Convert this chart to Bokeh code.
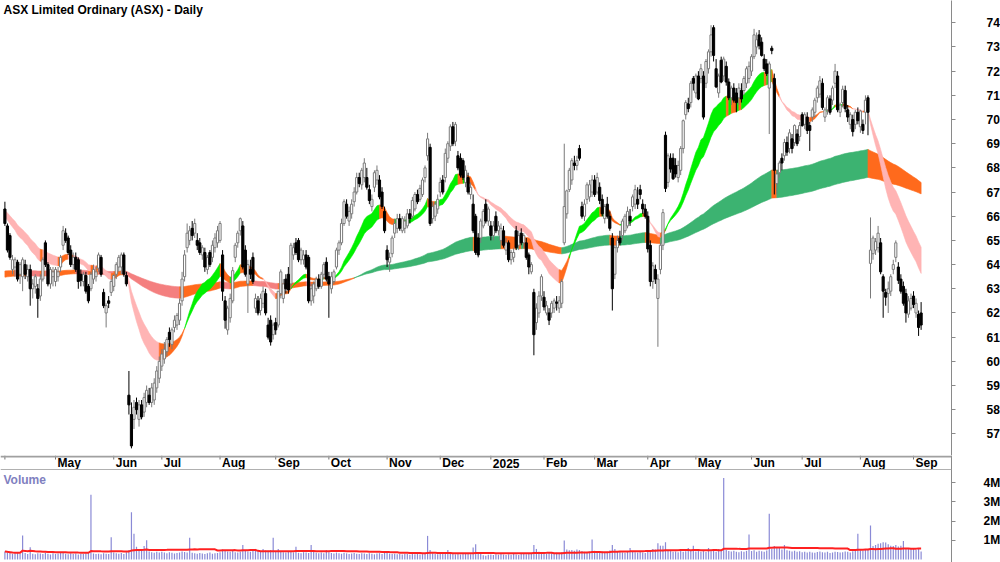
import numpy as np
import pandas as pd
from bokeh.plotting import figure
from bokeh.layouts import column
from bokeh.models import Range1d, FixedTicker, Span, Label, ColumnDataSource
from bokeh.embed import file_html
from bokeh.resources import INLINE
from bokeh.core.properties import value

# ---------------- data ----------------
opens = [
    66.3,65.6,65.2,63.8,63.9,64.1,63.6,63.5,64.0,63.5,63.8,63.0,63.1,63.0,62.7,63.4,64.9,64.0,63.2,63.5,
    63.3,63.5,63.9,64.8,65.3,65.1,64.6,64.0,64.3,64.2,63.6,63.3,63.55,63.1,63.0,63.4,63.5,63.85,64.3,62.85,62.0,62.5,62.85,
    63.1,63.6,63.9,63.9,64.4,63.55,58.6,57.8,57.6,58.3,57.6,58.2,57.9,58.3,58.6,58.3,58.4,58.9,59.3,
    59.8,60.1,60.4,61.2,60.7,61.4,61.5,61.7,62.5,63.5,64.7,65.0,65.5,65.3,65.0,64.9,64.4,64.5,63.8,64.5,64.3,64.7,64.9,
    65.0,64.4,62.5,61.3,61.8,62.5,64.3,64.9,65.4,65.6,64.6,63.2,63.8,64.3,62.2,62.5,62.1,62.4,62.8,61.5,61.7,61.1,
    61.6,61.5,62.8,62.6,63.4,63.6,63.2,64.4,64.9,65.0,64.2,64.2,64.4,64.3,62.5,62.7,63.0,63.4,63.1,63.6,64.1,
    63.5,63.0,63.3,63.9,64.6,64.9,65.7,66.5,65.8,66.1,66.6,67.0,67.6,67.3,67.6,67.6,67.1,66.4,67.2,67.5,67.5,67.0,66.2,
    64.6,64.1,64.45,65.3,65.5,65.9,65.4,65.5,65.6,66.1,66.0,66.3,66.9,66.7,66.9,67.6,68.5,68.85,65.9,66.0,66.3,
    67.0,67.5,67.6,68.4,68.9,69.7,69.1,68.5,68.4,68.3,67.4,67.6,66.9,66.5,66.0,65.1,65.1,65.6,66.5,65.8,
    65.6,65.2,66.0,65.4,65.0,65.4,64.6,64.9,64.2,64.3,65.4,64.8,65.3,64.9,64.9,64.4,63.7,62.85,61.6,62.0,62.7,
    62.65,62.0,62.0,62.0,62.2,62.45,62.2,62.4,64.9,66.1,67.1,67.5,68.2,68.1,68.8,66.4,66.0,66.7,66.8,67.0,
    67.5,67.0,67.2,66.7,65.9,66.5,66.0,65.1,63.6,64.7,65.1,65.2,65.4,65.6,66.0,66.4,66.5,66.7,67.1,66.5,66.3,
    66.0,64.8,63.3,63.8,62.6,63.8,64.8,69.35,67.4,68.4,68.4,68.1,67.6,67.9,68.8,70.2,70.65,70.7,71.7,
    71.1,71.8,71.7,71.8,71.5,72.1,72.8,73.8,72.1,71.1,72.45,71.8,72.2,71.55,70.9,71.3,71.1,70.9,71.2,71.2,71.5,71.7,
    72.0,72.6,73.0,73.5,73.2,72.5,72.3,71.3,72.95,71.7,67.35,67.8,68.4,68.5,69.05,68.8,69.2,69.05,69.4,69.3,
    70.2,69.8,70.1,69.75,70.1,70.3,70.9,71.05,71.5,70.1,70.4,70.85,70.8,71.5,71.8,70.3,70.7,71.2,70.4,69.8,70.0,69.8,70.3,
    69.7,69.8,70.3,70.9,64.05,64.45,64.6,64.7,64.9,63.5,62.85,62.8,62.9,63.8,64.3,63.9,63.4,63.1,62.8,61.95,62.2,
    62.7,62.0,61.95,62.0,
]
highs = [
    66.6,65.7,65.3,64.4,64.3,64.2,64.1,64.3,64.2,64.0,64.0,63.4,63.6,63.2,63.6,64.3,65.0,64.1,63.9,63.9,
    63.9,63.9,64.4,65.6,65.5,65.2,64.8,64.5,64.5,64.3,63.8,63.7,63.7,63.2,63.7,64.0,63.9,64.5,64.4,63.0,62.4,62.7,63.4,
    63.6,64.1,64.4,64.5,64.5,63.7,59.6,58.3,58.4,58.5,58.4,58.4,58.7,59.0,58.9,59.1,59.3,59.8,60.2,
    60.5,60.8,61.0,61.4,61.4,61.9,62.0,62.6,63.7,64.6,65.7,65.6,65.8,65.9,65.3,65.1,64.8,64.7,64.4,64.6,65.0,65.3,65.6,
    65.8,64.6,62.7,62.3,62.8,63.9,64.9,65.4,65.95,65.8,64.8,64.2,64.2,64.5,62.8,62.7,62.8,63.1,63.0,61.8,61.9,61.6,
    61.8,62.9,63.8,63.4,63.6,63.9,64.9,64.9,65.1,65.1,64.7,64.6,64.6,64.4,63.2,63.3,63.5,63.6,63.7,64.1,64.3,
    63.7,63.7,63.8,64.7,65.0,65.9,66.7,66.7,66.4,66.7,67.2,67.8,67.8,68.0,68.4,68.0,67.3,66.9,67.9,68.1,67.7,67.2,66.4,
    64.8,64.5,65.2,65.9,66.1,66.1,66.0,66.0,66.3,66.3,66.8,67.0,67.1,67.3,67.6,68.1,69.45,69.0,66.6,66.6,66.9,
    67.6,67.7,68.8,69.1,69.8,69.9,69.9,68.7,68.6,68.4,68.1,67.8,67.4,66.9,66.1,65.3,65.9,66.3,66.7,66.4,
    65.8,65.8,66.2,65.8,65.7,65.6,65.1,65.0,64.6,64.7,65.6,65.4,65.5,65.3,65.1,64.5,64.1,63.0,62.4,62.9,63.6,
    62.9,62.5,62.2,62.5,62.6,62.7,62.7,63.4,69.0,67.1,68.0,68.4,68.5,68.5,68.95,66.6,66.7,67.4,67.5,67.7,
    67.7,67.8,67.4,66.9,66.5,66.8,66.2,65.3,64.8,65.2,65.4,65.9,66.1,66.4,66.3,66.9,67.3,67.2,67.3,66.7,66.5,
    66.2,65.0,64.1,64.0,63.6,64.9,66.3,69.5,68.6,68.6,68.6,68.4,68.3,68.9,70.0,70.8,70.9,71.6,71.8,
    71.9,72.0,72.3,72.0,72.5,72.9,73.9,73.9,72.5,71.9,72.6,72.6,72.4,71.7,71.4,71.5,71.3,71.5,71.5,71.8,72.2,72.4,
    72.7,73.75,73.6,73.7,73.4,72.7,72.5,72.4,73.05,71.9,67.9,68.3,68.6,69.2,69.3,69.6,69.4,69.8,69.6,69.9,
    70.3,70.3,70.3,69.9,70.5,70.9,71.4,71.8,71.7,70.5,71.0,71.0,71.4,72.3,72.0,70.7,71.4,71.4,70.6,70.3,70.2,70.4,70.5,
    70.4,70.0,71.0,71.0,65.95,65.2,65.1,65.6,65.1,63.6,63.0,63.3,63.6,64.2,65.0,64.1,63.6,63.3,63.0,62.7,62.8,
    62.9,62.6,62.1,62.45,
]
lows = [
    65.6,64.5,64.2,63.6,63.5,63.3,63.2,62.9,63.4,63.3,62.3,62.6,62.8,61.8,62.5,63.3,63.9,63.1,63.0,63.1,
    63.1,63.3,63.7,64.6,64.9,64.4,63.9,63.8,63.7,63.0,63.1,63.1,62.8,62.4,62.9,63.2,63.3,63.7,63.5,62.2,61.4,62.2,62.7,
    62.9,63.4,63.7,63.6,63.5,63.1,57.8,56.4,57.2,57.8,57.3,57.6,57.7,58.1,58.2,58.1,58.2,58.7,59.1,
    59.6,59.9,60.2,60.6,60.5,61.2,61.3,61.5,62.3,63.3,64.5,64.8,65.0,65.1,64.6,64.4,64.2,63.7,63.6,63.9,64.1,64.5,64.7,
    64.9,62.5,61.35,61.1,61.6,62.4,64.1,64.7,65.2,63.8,63.5,62.0,63.4,63.2,62.0,61.9,61.9,62.2,61.9,60.9,60.65,60.9,
    61.1,61.4,62.6,62.4,62.8,62.8,63.0,64.2,64.4,64.1,64.0,64.0,63.8,62.4,62.3,62.4,62.9,63.0,63.0,63.4,63.3,
    61.8,62.8,63.2,63.8,64.4,64.8,65.6,65.9,65.6,65.9,66.4,66.9,67.2,67.1,67.4,67.1,66.5,66.2,67.0,67.3,66.7,66.3,65.3,
    63.9,63.7,64.3,65.1,65.3,65.4,65.3,65.3,65.5,65.7,65.9,66.2,66.5,66.6,66.8,67.4,68.3,65.6,65.7,65.8,66.1,
    66.8,66.9,67.4,68.2,68.7,68.9,68.9,67.9,67.6,67.5,67.2,66.9,66.7,65.3,64.4,64.3,64.9,65.5,65.7,65.6,
    65.0,65.0,65.3,65.2,64.8,64.7,64.4,64.1,64.0,64.1,64.6,64.6,64.8,64.7,64.2,63.6,63.6,60.25,61.3,61.8,62.5,
    62.1,61.9,61.5,61.8,62.0,62.1,62.0,62.2,64.8,65.9,67.0,67.3,67.9,67.9,68.3,65.9,65.8,66.5,66.6,66.8,
    66.8,66.9,66.5,66.0,65.7,65.9,65.4,62.1,63.4,64.5,64.8,65.0,65.3,65.5,65.6,66.2,66.3,66.3,66.7,66.1,65.9,
    64.5,63.1,63.0,63.2,60.6,63.6,64.6,67.0,67.2,67.8,67.5,67.6,67.4,67.7,68.6,70.0,70.3,70.5,71.2,
    70.9,70.8,71.5,70.0,71.3,71.9,72.6,72.4,71.3,70.9,71.5,71.6,71.4,70.8,70.6,70.7,70.3,70.6,70.7,71.0,71.3,71.5,
    71.8,72.5,72.7,72.9,72.6,72.0,71.8,69.4,72.7,66.9,66.9,67.6,67.9,68.3,68.5,68.6,68.6,68.9,68.9,69.1,
    69.7,69.6,69.4,68.7,69.9,70.1,70.7,70.9,70.4,69.9,70.2,70.2,70.6,71.3,70.3,70.1,70.5,70.3,69.9,69.6,69.3,69.6,69.8,
    69.45,69.4,69.8,69.35,62.6,64.2,64.4,64.5,63.6,61.8,62.3,62.0,62.7,63.6,64.1,63.2,62.8,62.3,61.6,61.8,62.1,
    62.2,61.8,61.05,61.3,
]
closes = [
    65.7,64.6,64.3,64.2,64.2,63.4,64.0,64.2,63.6,63.8,63.0,63.2,63.5,62.6,63.4,64.2,64.0,63.2,63.8,63.7,
    63.8,63.7,64.3,65.4,65.0,64.5,64.0,64.3,63.8,63.3,63.35,63.6,62.9,62.5,63.6,63.8,63.7,64.4,63.6,62.3,62.3,62.4,63.3,
    63.55,64.0,64.3,64.4,63.6,63.2,58.2,56.5,58.1,58.0,58.2,57.7,58.5,58.8,58.3,58.9,59.1,59.6,60.0,
    60.3,60.5,60.9,60.9,61.3,61.7,61.9,62.4,63.4,64.4,65.3,65.4,65.2,65.7,64.8,64.5,64.7,63.9,64.3,64.0,64.8,65.1,65.4,
    65.7,62.9,61.7,62.2,62.6,63.75,64.8,65.3,65.9,63.9,63.6,64.0,63.6,63.3,62.6,62.0,62.6,62.9,62.0,61.0,60.8,61.5,
    61.3,62.9,63.7,63.2,63.0,62.95,64.8,64.7,64.5,64.2,64.6,64.4,63.9,62.5,63.0,63.2,63.4,63.1,63.6,64.0,63.4,
    63.2,63.5,63.7,64.6,64.9,65.7,66.6,66.0,66.2,66.5,67.0,67.6,67.35,67.9,68.2,67.2,66.65,66.7,67.8,67.9,66.8,66.4,65.4,
    64.2,64.3,65.1,65.7,65.9,65.5,65.9,65.8,66.1,65.9,66.65,66.9,66.6,67.15,67.5,68.0,69.2,65.7,66.4,66.5,66.7,
    67.4,67.0,68.6,69.0,69.7,69.0,69.8,68.0,67.7,67.6,67.9,67.0,67.2,65.4,64.5,64.4,65.8,66.2,65.8,66.3,
    65.2,65.6,65.4,65.6,65.5,64.8,64.9,64.2,64.5,64.5,64.7,65.2,64.9,65.2,64.3,63.9,64.0,61.1,62.2,62.7,63.5,
    62.25,62.3,61.7,62.4,62.5,62.4,62.5,63.3,66.4,67.05,67.9,68.3,68.1,68.3,68.4,66.0,66.5,67.3,67.3,67.5,
    66.9,67.6,66.65,66.1,66.4,66.0,65.5,63.0,64.7,65.0,64.9,65.8,66.0,66.2,65.8,66.8,67.1,66.5,66.9,66.3,66.0,
    64.65,63.3,63.95,63.4,63.4,64.8,66.15,67.15,68.5,67.95,67.55,67.75,68.1,68.8,69.95,70.7,70.45,71.5,71.5,
    71.8,70.85,72.1,70.1,72.4,72.8,73.5,72.65,71.35,71.8,71.55,72.5,71.55,70.9,71.3,70.8,70.7,71.3,70.85,71.7,72.1,72.2,
    72.6,73.5,73.3,73.05,72.65,72.1,71.9,72.3,72.85,67.9,67.75,68.2,68.2,69.05,68.65,69.45,68.8,69.75,69.0,69.75,
    69.75,70.2,69.55,69.55,70.4,70.8,71.3,71.6,70.5,70.4,70.9,70.3,71.3,72.0,70.4,70.6,71.25,70.45,70.1,70.2,69.5,70.3,69.95,
    70.35,69.55,70.8,70.3,64.6,65.1,64.95,65.3,63.7,62.9,62.65,63.0,63.5,64.0,64.9,63.35,62.9,62.4,62.0,62.5,62.6,
    62.35,62.4,61.4,61.5,
]
volumes_m = [
    0.42,0.38,0.35,0.30,0.33,0.36,0.31,1.25,0.34,0.29,0.64,0.30,0.27,0.33,0.31,0.28,0.35,0.30,0.26,0.32,
    0.29,0.31,0.34,0.38,0.30,0.27,0.33,0.29,0.31,0.26,0.30,0.28,0.32,0.35,3.37,0.31,0.28,0.30,0.27,0.33,0.30,0.28,1.16,
    0.36,0.32,0.30,0.34,0.29,0.38,0.50,2.46,1.34,0.66,0.52,0.45,0.70,1.00,0.42,0.38,0.35,0.40,0.37,
    0.40,0.36,0.33,0.38,0.35,0.31,0.34,0.37,0.42,0.39,0.36,1.13,0.35,0.32,0.30,0.34,0.31,0.29,0.33,0.36,0.30,0.32,0.34,
    0.38,0.52,0.48,0.42,0.40,0.45,0.38,0.36,0.41,0.76,0.45,0.42,0.40,0.44,0.55,0.43,0.41,0.55,0.47,0.45,0.50,1.13,
    0.42,0.55,0.40,0.38,0.36,0.39,0.41,0.37,0.66,0.35,0.33,0.38,0.36,0.34,0.76,0.40,0.35,0.32,0.36,0.33,0.50,
    0.38,0.34,0.31,0.36,0.33,0.30,0.35,0.32,0.29,0.31,0.34,0.30,0.28,0.33,0.31,0.29,0.32,0.30,0.27,0.31,0.33,0.29,0.35,
    0.36,0.31,0.28,0.30,0.27,0.29,0.26,0.30,0.28,0.25,0.29,0.27,0.30,0.26,0.28,0.31,1.23,0.50,0.33,0.29,0.27,
    0.30,0.28,0.33,0.50,0.31,0.29,0.27,0.30,0.26,0.28,0.32,0.29,0.27,0.62,0.80,0.35,0.31,0.22,0.20,0.25,
    0.26,0.24,0.27,0.25,0.28,0.26,0.23,0.27,0.25,0.29,0.26,0.24,0.28,0.30,0.27,0.31,0.33,0.76,0.55,0.40,0.36,
    0.34,0.31,0.36,0.33,0.30,0.35,0.32,0.38,0.99,0.52,0.48,0.50,0.46,0.52,0.49,0.44,0.40,0.37,0.42,1.04,
    0.45,0.40,0.38,0.42,0.36,0.40,0.47,0.76,0.55,0.44,0.40,0.37,0.35,0.39,0.60,0.41,0.38,0.36,0.40,0.37,0.34,
    0.50,0.45,0.55,0.52,0.85,0.72,0.72,0.90,0.50,0.44,0.40,0.42,0.38,0.45,0.41,0.43,0.60,0.46,0.72,
    0.42,0.48,0.40,0.44,0.39,0.60,0.43,0.45,0.41,0.55,0.47,4.25,0.50,0.44,0.42,0.46,0.40,0.38,0.43,0.41,0.45,1.30,
    0.44,0.48,0.41,0.45,0.43,0.40,0.47,2.38,0.55,0.70,0.62,0.60,0.52,0.76,0.48,0.45,0.42,0.46,0.40,0.43,
    0.38,0.41,0.36,0.40,0.37,0.35,0.39,0.42,0.38,0.36,0.40,0.34,0.37,0.41,0.39,0.36,0.38,0.42,0.40,0.37,0.43,0.45,1.34,
    0.48,0.45,0.52,0.50,1.77,0.70,0.75,0.82,0.85,0.90,0.88,0.80,0.72,0.70,0.75,0.68,0.72,0.97,0.60,0.55,0.55,
    0.55,0.52,0.58,0.42,
]
price_ticks = list(range(57, 75))
volume_ticks = [1, 2, 3, 4]
volume_tick_labels = {1: "1M", 2: "2M", 3: "3M", 4: "4M"}
asx_holidays = ["2024-04-25", "2024-06-10", "2024-12-25", "2024-12-26", "2025-01-01",
                "2025-01-27", "2025-04-18", "2025-04-21", "2025-04-25", "2025-06-09"]
title_text = "ASX Limited Ordinary (ASX) - Daily"

# ---------------- derived ----------------
n = len(closes)
o = np.array(opens[:n]); h = np.array(highs[:n]); l = np.array(lows[:n]); c = np.array(closes[:n])
vol = np.array((volumes_m + [0.4] * n)[:n])
h = np.maximum(h, np.maximum(o, c)); l = np.minimum(l, np.minimum(o, c))
x = np.arange(n, dtype=float)

days = pd.bdate_range("2024-04-02", "2025-09-30")
days = days[~days.isin(pd.to_datetime(asx_holidays))][:n]
month_idx, month_lab = [], []
for i in range(n):
    if i == 0 or days[i].month != days[i - 1].month:
        month_idx.append(i)
        month_lab.append("" if i == 0 else ("2025" if days[i].month == 1 else days[i].strftime("%b")))

def ema(vals, period, seed):
    a = 2.0 / (period + 1); e = seed; out = []
    for v in vals:
        e += a * (v - e); out.append(e)
    return np.array(out)

s_fast = ema(c, 20, 66.0); s_slow = ema(c, 30, 66.28)
l_fast = ema(c, 150, 63.45); l_slow = ema(c, 250, 63.72)

def ribbon(fast, slow, cols):
    hi = np.maximum(fast, slow); lo = np.minimum(fast, slow)
    st = []
    for i in range(1, n):
        fu = fast[i] > fast[i - 1]; su = slow[i] > slow[i - 1]
        if fast[i] > slow[i] and fu and su:
            st.append(cols[0])
        elif fast[i] < slow[i] and (not fu) and (not su):
            st.append(cols[1])
        else:
            st.append(cols[2])
    xs, ys, cs = [], [], []
    start = 0
    for k in range(1, len(st) + 1):
        if k == len(st) or st[k] != st[start]:
            idx = list(range(start, k + 1))
            xs.append([x[j] for j in idx] + [x[j] for j in idx[::-1]])
            ys.append([hi[j] for j in idx] + [lo[j] for j in idx[::-1]])
            cs.append(st[start])
            start = k
    return dict(xs=xs, ys=ys, color=cs)

ORANGE = "#ff6a1c"
long_rib = ribbon(l_fast, l_slow, ("#3cb371", "#f47f7f", ORANGE))
short_rib = ribbon(s_fast, s_slow, ("#00f000", "#ffb4b4", ORANGE))

# ---------------- geometry ----------------
PX_PER_BAR = 2.531
X0 = 4.4
XMIN = (0 - X0) / PX_PER_BAR
XMAX = (951 - X0) / PX_PER_BAR
PPU = 24.18  # px per price unit
P_TOP = 74 + 22.3 / PPU
P_BOT = 74 - (455 - 22.3) / PPU
VPX = 19.2   # px per million
V_TOP = (559 - 455) / VPX
V_BOT = (559 - 562) / VPX

FONT = "Liberation Sans"
AXIS_COL = "#8a8a8a"

# ---------------- price figure ----------------
p = figure(frame_width=951, frame_height=455, x_range=Range1d(XMIN, XMAX),
           y_range=Range1d(P_BOT, P_TOP), output_backend="svg", toolbar_location=None,
           x_axis_location=None, y_axis_location="right", title=None,
           min_border=0, min_border_right=49, background_fill_color="white",
           border_fill_color="white")
p.outline_line_color = None
p.xgrid.visible = False
p.ygrid.visible = False
ya = p.yaxis[0]
ya.ticker = FixedTicker(ticks=price_ticks)
ya.axis_line_color = AXIS_COL
ya.major_tick_line_color = AXIS_COL
ya.major_tick_out = 4
ya.major_tick_in = 0
ya.minor_tick_line_color = None
ya.major_label_standoff = 31
ya.major_label_text_font = FONT
ya.major_label_text_font_style = "bold"
ya.major_label_text_font_size = "12px"
ya.major_label_text_color = "#000000"

p.patches("xs", "ys", fill_color="color", line_color="color", line_width=0.6,
          source=ColumnDataSource(long_rib))
p.patches("xs", "ys", fill_color="color", line_color="color", line_width=0.6,
          source=ColumnDataSource(short_rib))

up = c >= o
def csrc(mask):
    return ColumnDataSource(dict(x=x[mask], hi=h[mask], lo=l[mask],
                                 top=np.maximum(o, c)[mask], bot=np.minimum(o, c)[mask]))
su, sd = csrc(up), csrc(~up)
p.segment("x", "lo", "x", "hi", line_color="#7a7a7a", line_width=1, source=su)
p.segment("x", "lo", "x", "hi", line_color="#000000", line_width=1, source=sd)
p.vbar(x="x", width=0.85, top="top", bottom="bot", fill_color="#ffffff",
       line_color="#7a7a7a", line_width=1, source=su)
p.vbar(x="x", width=0.85, top="top", bottom="bot", fill_color="#000000",
       line_color="#000000", line_width=1, source=sd)

p.add_layout(Label(x=3, y=453, x_units="screen", y_units="screen", text=title_text,
                   text_font=FONT, text_font_style="bold", text_font_size="12px",
                   text_color="#000000", text_baseline="top"))

# ---------------- volume figure (with date strip on top) ----------------
v = figure(frame_width=951, frame_height=107, x_range=p.x_range,
           y_range=Range1d(V_BOT, V_TOP), output_backend="svg", toolbar_location=None,
           x_axis_location=None, y_axis_location="right", title=None,
           min_border=0, min_border_right=49, background_fill_color="white",
           border_fill_color="white")
v.outline_line_color = None
v.xgrid.visible = False
v.ygrid.visible = False
va = v.yaxis[0]
va.ticker = FixedTicker(ticks=volume_ticks)
va.major_label_overrides = volume_tick_labels
va.axis_line_color = AXIS_COL
va.major_tick_line_color = AXIS_COL
va.major_tick_out = 4
va.major_tick_in = 0
va.minor_tick_line_color = None
va.major_label_standoff = 28
va.major_label_text_font = FONT
va.major_label_text_font_style = "bold"
va.major_label_text_font_size = "12px"
va.major_label_text_color = "#000000"

strip_top = V_TOP - 1.0 / VPX
strip_bot = (559 - 469) / VPX
v.add_layout(Span(location=strip_top, dimension="width", line_color="#a0a0a0", line_width=2))
v.add_layout(Span(location=strip_bot, dimension="width", line_color="#b0b0b0", line_width=1))
v.segment(x0=month_idx, y0=[V_TOP] * len(month_idx), x1=month_idx,
          y1=[V_TOP - 4.0 / VPX] * len(month_idx), line_color="#707070", line_width=1)
v.text(x=month_idx, y=[(559 - 462.5) / VPX] * len(month_idx), text=month_lab,
       x_offset=2, text_align="left", text_baseline="middle",
       text_font=value(FONT), text_font_style="bold", text_font_size="12px",
       text_color="#000000")

v.segment(x0=x, y0=np.zeros(n), x1=x, y1=vol, line_color="#8a8ad6", line_width=1.2)
vma = pd.Series(vol).rolling(50, min_periods=1).mean().values
v.line(x, vma, line_color="#ff2020", line_width=2)

v.add_layout(Label(x=3, y=107 - 17, x_units="screen", y_units="screen", text="Volume",
                   text_font=FONT, text_font_style="bold", text_font_size="12px",
                   text_color="#8080c0", text_baseline="top"))

layout = column(p, v, spacing=0)
open("out.html", "w").write(file_html(layout, INLINE))
